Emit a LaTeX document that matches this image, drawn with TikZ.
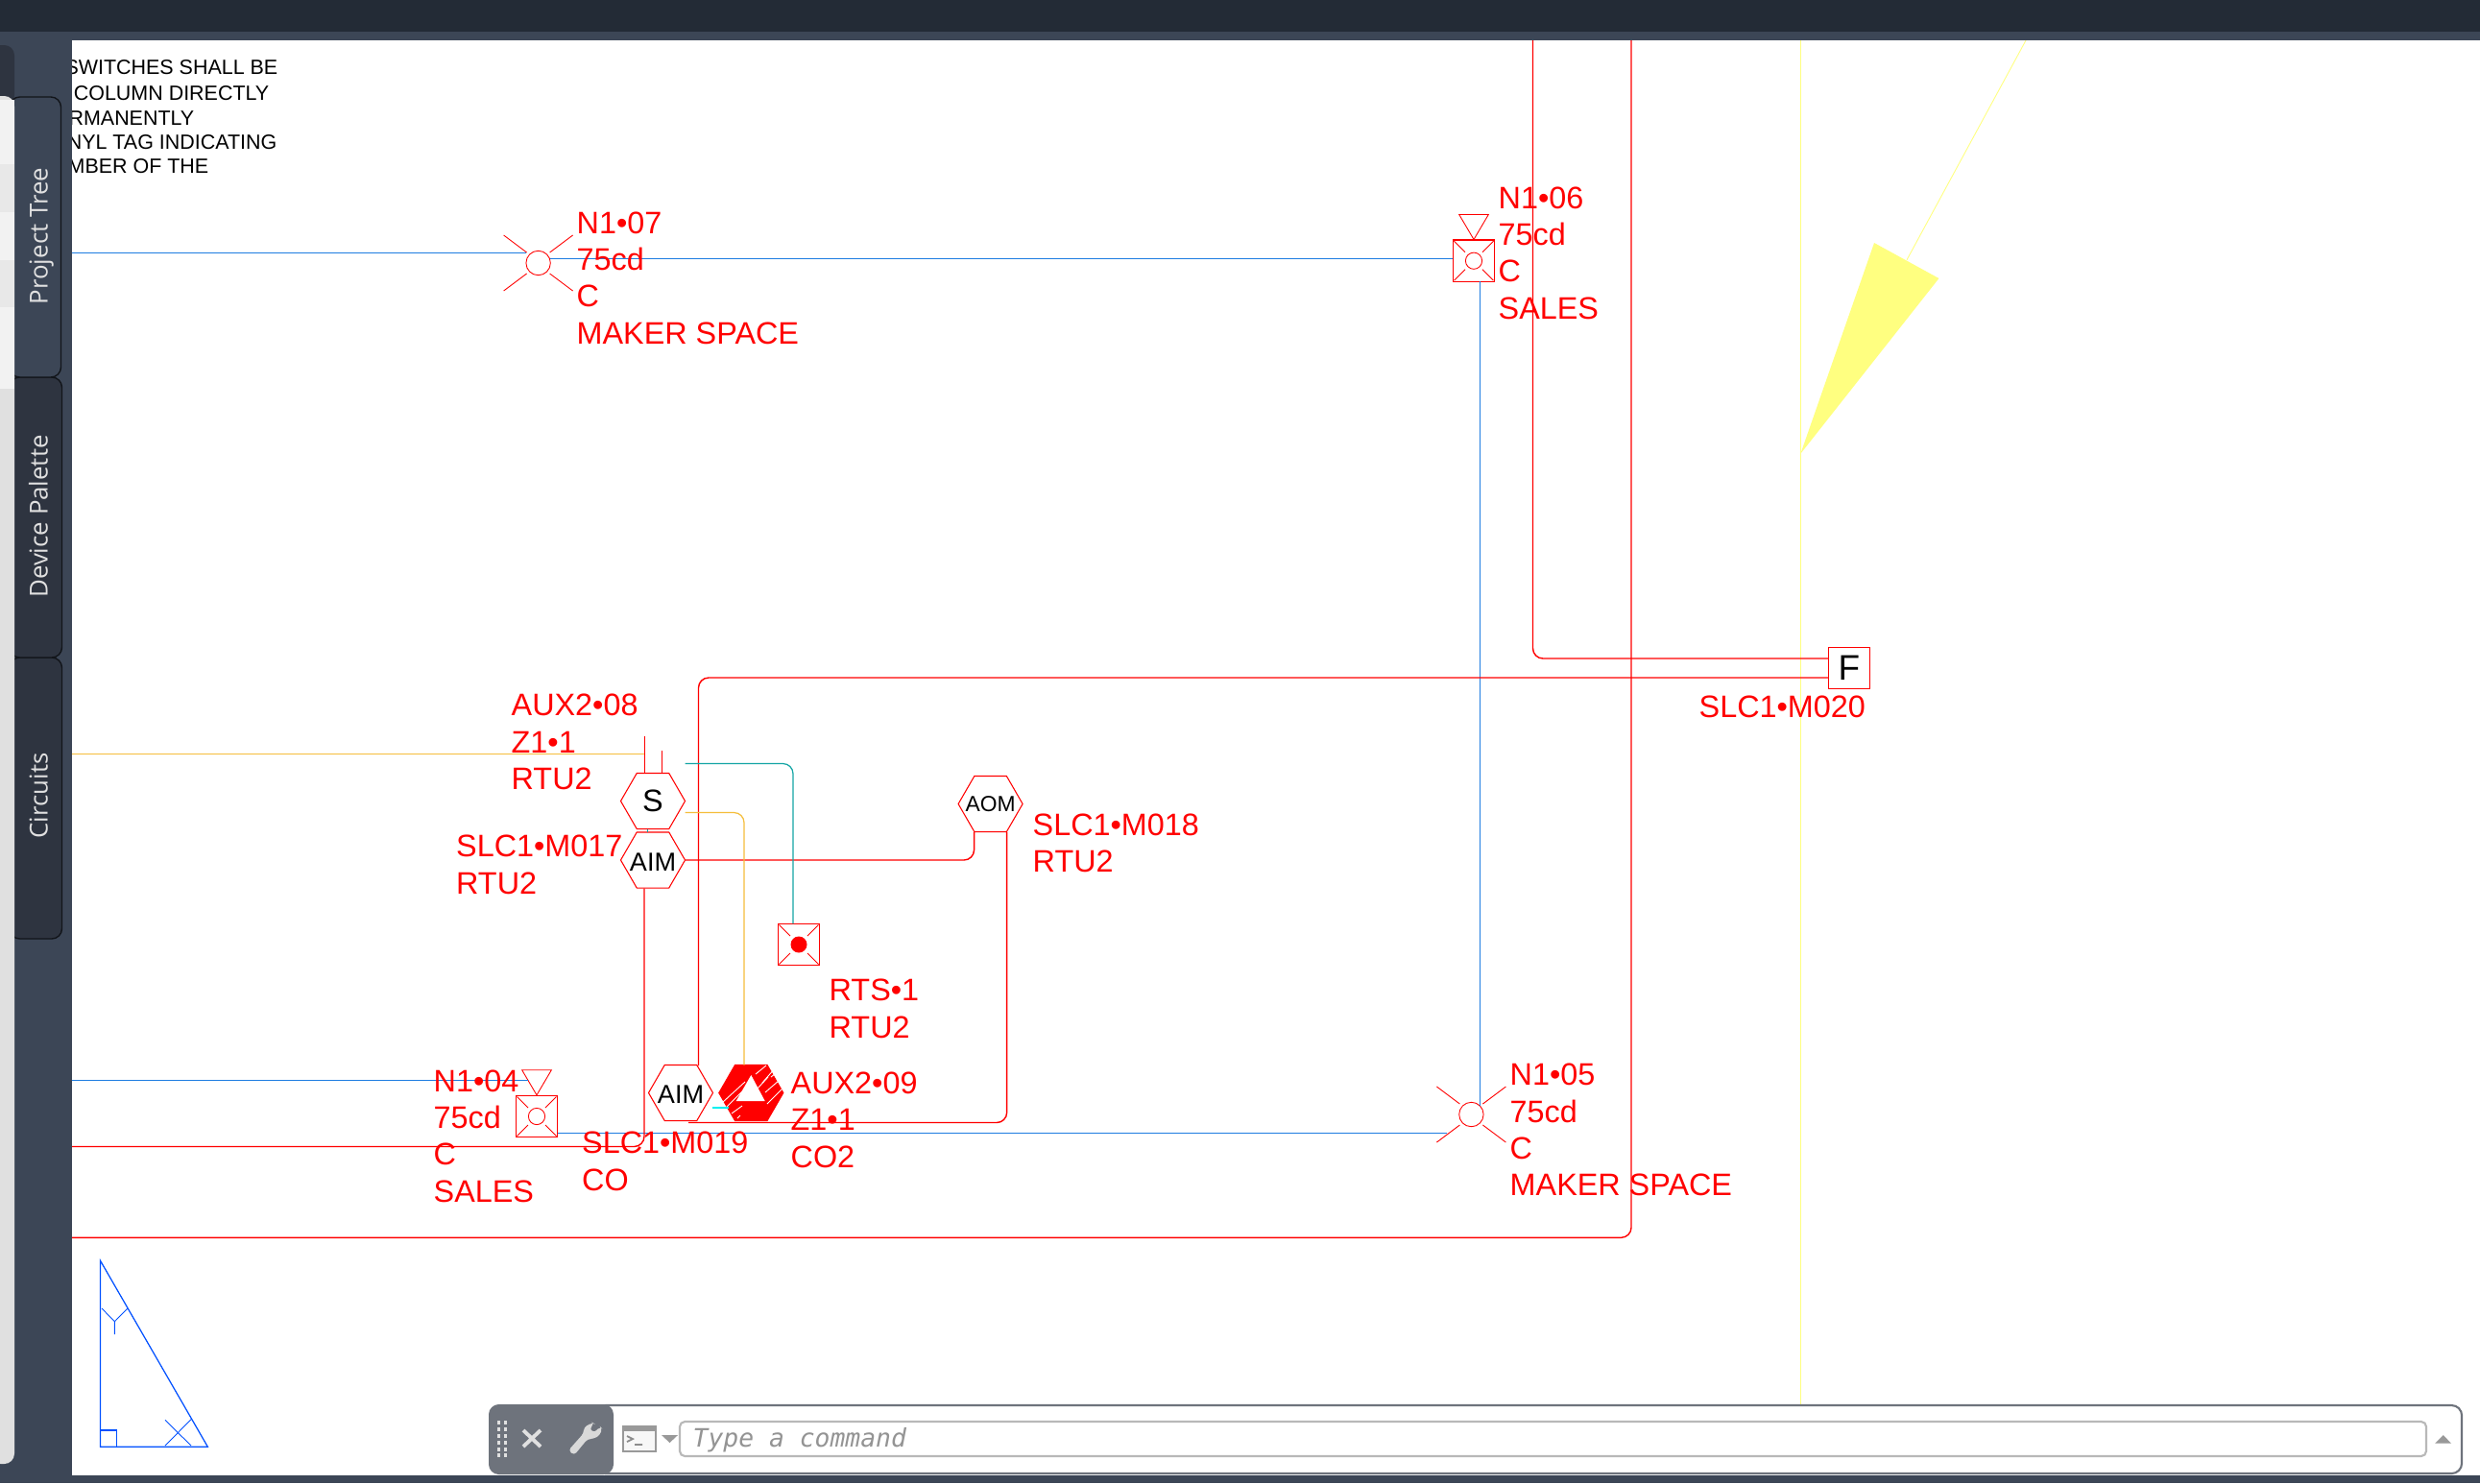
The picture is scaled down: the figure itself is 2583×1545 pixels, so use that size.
\documentclass[tikz,border=0pt]{standalone}
\usepackage{fontspec}
\setmainfont{Liberation Sans}
\newfontfamily\tabfont{Open Sans}
\newfontfamily\cmdfont{DejaVu Sans Mono}
\usetikzlibrary{calc,shapes.geometric}

\definecolor{cadred}{RGB}{255,0,0}
\definecolor{cadblue}{RGB}{30,125,225}
\definecolor{triblue}{RGB}{0,80,255}
\definecolor{cadorange}{RGB}{245,190,60}
\definecolor{cadteal}{RGB}{20,165,165}
\definecolor{cadcyan}{RGB}{0,240,240}
\definecolor{cadyellow}{RGB}{255,255,128}
\definecolor{topbar}{RGB}{35,43,54}
\definecolor{panel}{RGB}{60,70,86}
\definecolor{tabdark}{RGB}{46,52,64}
\definecolor{tool}{RGB}{110,115,124}

\tikzset{
  redwire/.style={draw=cadred, line width=0.4pt, rounded corners=3pt},
  bluewire/.style={draw=cadblue, line width=0.35pt},
  symline/.style={draw=cadred, line width=0.25pt},
  hexnode/.style={regular polygon, regular polygon sides=6, draw=cadred, line width=0.3pt, minimum size=0.67cm, inner sep=0pt},
  hextxt/.style={text=black, inner sep=0pt},
  boxnode/.style={rectangle, draw=cadred, line width=0.4pt, minimum size=0.43cm, inner sep=0pt},
  symcirc/.style={circle, draw=cadred, line width=0.25pt, inner sep=0pt},
  lbl/.style={text=cadred, anchor=base west, inner sep=0pt, align=left, font=\fontsize{9.2pt}{10.9pt}\selectfont},
  notetext/.style={text=black, anchor=base east, inner sep=0pt, font=\fontsize{6.1pt}{7.3pt}\selectfont},
  tablbl/.style={text=black!12, rotate=90, anchor=base, inner sep=0pt, font=\tabfont\fontsize{7.35pt}{8pt}\selectfont},
  tabshape/.style={draw=black!70!panel, line width=0.4pt, rounded corners=3pt}
}

% ceiling strobe, name x y
\newcommand{\ceilstrobe}[3]{
  \node[symcirc, minimum size=0.254cm] (#1) at (#2,#3) {};
  \foreach \sx in {-1,1} \foreach \sy in {-1,1}
    \draw[symline] ($(#1)+(\sx*12,\sy*11)$) -- ($(#1)+(\sx*36,\sy*29)$);
}
% wall strobe, name x y
\newcommand{\wallstrobe}[3]{
  \node[boxnode] (#1) at (#2,#3) {};
  \node[symcirc, minimum size=0.172cm] (#1c) at (#2,#3) {};
  \foreach \sx in {-1,1} \foreach \sy in {-1,1}
    \draw[symline] ($(#1)+(\sx*9,\sy*9)$) -- ($(#1)+(\sx*20.5,\sy*20.5)$);
  \draw[symline] ($(#1.north)+(-15.3,-26)$) -- ($(#1.north)+(15.3,-26)$) -- (#1.north) -- cycle;
}

\begin{document}
\begin{tikzpicture}[x=0.01cm,y=-0.01cm]
\useasboundingbox (0,0) rectangle (2583,1545);
\fill[white] (0,0) rectangle (2583,1545);

% note in the corner
\node[notetext] (note1) at (290,77) {SWITCHES SHALL BE};
\node[notetext] (note2) at (281,104) {COLUMN DIRECTLY};
\node[notetext] (note3) at (203,130) {RMANENTLY};
\node[notetext] (note4) at (289,155) {NYL TAG INDICATING};
\node[notetext] (note5) at (218,180) {MBER OF THE};

% yellow arrow
\coordinate (ytop) at (1875.3,42);
\coordinate (ybot) at (1875.3,1464);
\draw[cadyellow, line width=0.35pt] (ytop) -- (ybot);
\coordinate (leadtop) at (2110,42);
\coordinate (leadend) at (1986,270.7);
\draw[cadyellow, line width=0.25pt] (leadtop) -- (leadend);
\fill[cadyellow] (1952,253) -- (2019.4,290) -- (1875.3,472.7) -- cycle;

% devices
\ceilstrobe{c107}{560.6}{274}
\ceilstrobe{c105}{1532.4}{1161}
\wallstrobe{s106}{1535}{271.7}
\wallstrobe{s104}{559}{1163}

\node[boxnode] (rts) at (832,984) {};
\node[circle, fill=cadred, minimum size=0.17cm, inner sep=0pt] (rtsdot) at (832,984) {};
\foreach \sx in {-1,1} \foreach \sy in {-1,1}
  \draw[symline] ($(rts)+(\sx*9,\sy*9)$) -- ($(rts)+(\sx*20.5,\sy*20.5)$);

\node[hexnode] (smod) at (680,834.5) {};
\node[hexnode] (aimtop) at (680,896) {};
\node[hexnode] (aom) at (1031.6,837.5) {};
\node[hexnode] (aimlow) at (709,1138.5) {};
\node[hextxt, font=\fontsize{9.2pt}{10pt}\selectfont] (smodtxt) at (smod) {S};
\node[hextxt, font=\fontsize{7.7pt}{9pt}\selectfont] (aimtoptxt) at (680,898) {AIM};
\node[hextxt, font=\fontsize{6.5pt}{8pt}\selectfont] (aomtxt) at (aom) {AOM};
\node[hextxt, font=\fontsize{7.7pt}{9pt}\selectfont] (aimlowtxt) at (709,1140) {AIM};
\node[hexnode, fill=cadred] (co2) at (782.3,1138.5) {};
\fill[white] (782.3,1120) -- (796.7,1147) -- (766.7,1147) -- cycle;
\foreach \xa/\ya/\xb/\yb in {753/1148/776/1127, 757/1153/773/1137, 762/1160/773/1152, 768/1165/771/1162,
  787/1119/798/1110, 794/1128/807/1113, 797/1138/812/1125, 799/1150/815/1134, 803/1122/808/1118, 788/1135/800/1122}
  \draw[white, line width=0.25pt] (\xa,\ya) -- (\xb,\yb);
\node[boxnode, font=\fontsize{10.5pt}{12pt}\selectfont, text=black] (fmod) at (1925.8,696) {F};

% wire ends
\coordinate (n107in) at (75,263.3);
\coordinate (c107w) at (548,263.3);
\coordinate (c107e) at (573,269.4);
\coordinate (s106w) at (1513,269.4);
\coordinate (s106s) at (1541.6,293);
\coordinate (c105n) at (1541.6,1152);
\coordinate (c105w) at (1507,1180.5);
\coordinate (s104e) at (580.7,1180.5);
\coordinate (n104in) at (75,1125.4);
\coordinate (s104n) at (550,1125.4);
\coordinate (auxin) at (75,785.5);
\coordinate (tick1) at (671,767);
\coordinate (tick1b) at (671,805.5);
\coordinate (tick2) at (689,782);
\coordinate (tick2b) at (689,805.5);
\coordinate (sright1) at (713.5,795.5);
\coordinate (sright2) at (713.5,846.5);
\coordinate (rtstop) at (826,962.3);
\coordinate (co2top) at (775,1109.5);
\coordinate (sbot) at (674.5,863.5);
\coordinate (aimtop1) at (674.5,867);
\coordinate (aimbot) at (671,925.7);
\coordinate (aimlowtop) at (727.5,1110);
\coordinate (corbig) at (1699,42);
\coordinate (bigleft) at (75,1289.3);
\coordinate (cornext) at (1596.5,42);
\coordinate (fin1) at (1904,686);
\coordinate (fin2) at (1904,706);
\coordinate (loopend) at (717,1169.5);
\coordinate (sloutleft) at (75,1194.5);
\coordinate (co2west) at (759,1154);
\coordinate (aimeast) at (741.7,1154);

% blue wiring
\draw[bluewire] (n107in) -- (c107w);
\draw[bluewire] (c107e) -- (s106w);
\draw[bluewire] (s106s) -- (c105n);
\draw[bluewire] (c105w) -- (s104e);
\draw[bluewire] (n104in) -- (s104n);

% red wiring
\draw[redwire] (aimtop.corner 6) -| (aom.corner 4);
\draw[redwire] (aom.corner 5) |- (loopend);
\draw[redwire] (aimlowtop) |- (fin2);
\draw[redwire] (cornext) |- (fin1);
\draw[redwire] (corbig) |- (bigleft);
\draw[redwire] (aimbot) |- (sloutleft);
\draw[symline] (tick1) -- (tick1b);
\draw[symline] (tick2) -- (tick2b);

% other wiring
\draw[cadorange, line width=0.35pt] (auxin) -- (tick1 |- auxin);
\draw[cadorange, line width=0.35pt, rounded corners=3pt] (sright2) -| (co2top);
\draw[cadteal, line width=0.35pt, rounded corners=3pt] (sright1) -| (rtstop);
\draw[cadteal, line width=0.35pt] (sbot) -- (aimtop1);
\draw[cadcyan, line width=0.35pt] (aimeast) -- (co2west);

% labels
\node[lbl] (n107lbl) at (600,358) {N1•07\\75cd\\C\\MAKER SPACE};
\node[lbl] (n106lbl) at (1560,332) {N1•06\\75cd\\C\\SALES};
\node[lbl] (n105lbl) at (1572,1245.7) {N1•05\\75cd\\C\\MAKER SPACE};
\node[lbl] (n104lbl) at (451,1252) {N1•04\\75cd\\C\\SALES};
\node[lbl] (fmodlbl) at (1769,747.8) {SLC1•M020};
\node[lbl] (smodlbl) at (532,822.5) {AUX2•08\\Z1•1\\RTU2};
\node[lbl] (aimtoplbl) at (474.5,931) {SLC1•M017\\RTU2};
\node[lbl] (aomlbl) at (1075,908.7) {SLC1•M018\\RTU2};
\node[lbl] (rtslbl) at (863,1081) {RTS•1\\RTU2};
\node[lbl] (aimlowlbl) at (605.5,1240) {SLC1•M019\\CO};
\node[lbl] (co2lbl) at (823,1216) {AUX2•09\\Z1•1\\CO2};

% triangle mark
\draw[triblue, line width=0.35pt] (104.5,1313.3) -- (104.5,1507.3) -- (216.4,1507.3) -- cycle;
\draw[triblue, line width=0.35pt] (104.5,1490) -- (121.7,1490) -- (121.7,1507.3);
\draw[triblue, line width=0.25pt] (106,1363) -- (119.4,1376.7) -- (133,1363) (119.4,1376.7) -- (119.4,1390);
\draw[triblue, line width=0.25pt] (172,1479.3) -- (199,1506) (199,1478.7) -- (172,1506);

% window frame
\fill[topbar] (0,0) rectangle (2583,33);
\fill[panel] (0,33) rectangle (2583,42);
\fill[panel] (0,42) rectangle (75,1545);
\fill[panel] (0,1537) rectangle (2583,1545);
\fill[tabdark, rounded corners=3pt] (-10,47) rectangle (15,110);
\draw[tabshape, fill=tabdark] (10,685) rectangle (64.5,978);
\draw[tabshape, fill=tabdark] (10,393) rectangle (64.5,685);
\draw[tabshape, fill=panel] (10,101) rectangle (63.5,393);
\fill[black!12, rounded corners=3pt] (-10,100) rectangle (15,1525);
\fill[black!5] (0,104) rectangle (15,171);
\fill[black!9] (0,171) rectangle (15,221);
\fill[black!5] (0,221) rectangle (15,271);
\fill[black!9] (0,271) rectangle (15,320);
\fill[black!5] (0,320) rectangle (15,405);
\node[tablbl] (tabtree) at (49.5,246) {Project Tree};
\node[tablbl] (tabpal) at (49.5,538) {Device Palette};
\node[tablbl] (tabcirc) at (49.5,829) {Circuits};

% command bar
\draw[tool, line width=0.6pt, fill=white, rounded corners=3pt] (620,1464) rectangle (2564,1535);
\fill[tool, rounded corners=3pt] (509,1463) rectangle (639,1536);
\foreach \gy in {1482,1489,1496,1503,1510,1516} {
  \fill[black!12] (518,\gy-1.7) rectangle ++(3.4,3.4);
  \fill[black!12] (525,\gy-1.7) rectangle ++(3.4,3.4);
}
\draw[black!12, line width=1.1pt] (545,1490) -- (563,1507) (563,1490) -- (545,1507);
\fill[black!15, rounded corners=1pt] (592,1511) -- (608,1493) -- (608,1487) -- (617,1482) -- (619,1483) -- (614,1488) -- (617,1492) -- (621,1491) -- (625,1486) -- (627,1488) -- (625,1495) -- (618,1499) -- (612,1499) -- (598,1516) -- cycle;
\draw[black!40, fill=black!3, line width=0.6pt] (649,1486) rectangle (683,1512);
\fill[black!40] (648,1485) rectangle (684,1491);
\draw[black!45, line width=0.5pt] (653,1496) -- (659,1499) -- (653,1502) (661,1505) -- (669,1505);
\fill[black!40] (689,1495) -- (706,1495) -- (697.5,1503) -- cycle;
\draw[black!28, line width=0.6pt, rounded corners=1.5pt] (708,1481) rectangle (2527,1517);
\node[text=black!42, anchor=base west, inner sep=0pt, font=\cmdfont\itshape\fontsize{7.5pt}{9pt}\selectfont] (cmdtext) at (721,1507) {Type a command};
\fill[black!40] (2536,1503.7) -- (2553,1503.7) -- (2544.7,1495) -- cycle;
\end{tikzpicture}
\end{document}
